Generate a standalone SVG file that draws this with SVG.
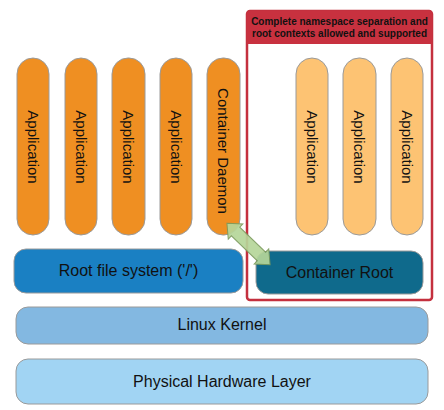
<svg xmlns="http://www.w3.org/2000/svg" width="444" height="410" viewBox="0 0 444 410">
<style>
text{font-family:"Liberation Sans",Arial,sans-serif;fill:#111}
.app{fill:#ef8f22;stroke:#9a9a9a;stroke-width:1}
.capp{fill:#fdc373;stroke:#9a9a9a;stroke-width:1}
.vt{font-size:15px;text-anchor:middle;dominant-baseline:central}
.ht{font-size:16px;text-anchor:middle;dominant-baseline:central}
.layer{stroke:#9a9a9a;stroke-width:1}
</style>
<rect width="444" height="410" fill="#fff"/>
<g id="container-box">
<rect x="247" y="11" width="185" height="289" rx="3" fill="#fff" stroke="#c4303e" stroke-width="2.5"/>
<path d="M247,44 V14 a3,3 0 0 1 3,-3 H429 a3,3 0 0 1 3,3 V44 Z" fill="#c8313f"/>
<text x="339.5" y="21" font-size="10" font-weight="bold" text-anchor="middle" dominant-baseline="central">Complete namespace separation and</text>
<text x="339.5" y="33.5" font-size="10" font-weight="bold" text-anchor="middle" dominant-baseline="central">root contexts allowed and supported</text>
</g>
<g id="app1"><rect class="app" x="17" y="58" width="32" height="177" rx="16"/><text class="vt" transform="translate(33,147) rotate(90)">Application</text></g>
<g id="app2"><rect class="app" x="65" y="58" width="32" height="177" rx="16"/><text class="vt" transform="translate(81,147) rotate(90)">Application</text></g>
<g id="app3"><rect class="app" x="112" y="58" width="33" height="177" rx="16"/><text class="vt" transform="translate(128.5,147) rotate(90)">Application</text></g>
<g id="app4"><rect class="app" x="160" y="58" width="32" height="177" rx="16"/><text class="vt" transform="translate(176,147) rotate(90)">Application</text></g>
<g id="daemon"><rect class="app" x="207" y="58" width="33" height="177" rx="16"/><text class="vt" transform="translate(223.5,151) rotate(90)">Container Daemon</text></g>
<g id="capp1"><rect class="capp" x="296" y="58" width="32" height="177" rx="16"/><text class="vt" transform="translate(312,147) rotate(90)">Application</text></g>
<g id="capp2"><rect class="capp" x="343" y="58" width="33" height="177" rx="16"/><text class="vt" transform="translate(359.5,147) rotate(90)">Application</text></g>
<g id="capp3"><rect class="capp" x="391" y="58" width="32" height="177" rx="16"/><text class="vt" transform="translate(407,147) rotate(90)">Application</text></g>
<g id="rootfs"><rect class="layer" x="14" y="249" width="229" height="44" rx="12" fill="#1a80c3"/><text class="ht" x="128.5" y="270">Root file system ('/')</text></g>
<g id="croot"><rect class="layer" x="256" y="251" width="167" height="43" rx="12" fill="#0f6a8c"/><text class="ht" x="339.5" y="272">Container Root</text></g>
<g id="kernel"><rect class="layer" x="16" y="307" width="412" height="37" rx="12" fill="#83b8e1"/><text class="ht" x="222" y="324">Linux Kernel</text></g>
<g id="hardware"><rect class="layer" x="16" y="359" width="412" height="45" rx="12" fill="#a1d4f3"/><text class="ht" x="222" y="381">Physical Hardware Layer</text></g>
<g id="connectors">
<polygon transform="translate(248.5,244) rotate(44)" points="-30,0 -18,-10.5 -18,-6 18,-6 18,-10.5 30,0 18,10.5 18,6 -18,6 -18,10.5" fill="#b6d69a" stroke="#7d9c5e" stroke-width="1" opacity="0.92"/>
</g>
</svg>
